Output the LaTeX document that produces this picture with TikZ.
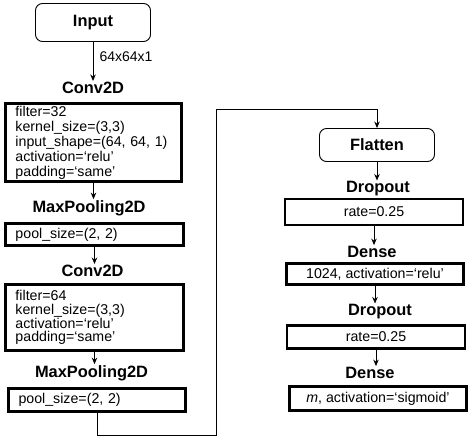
\documentclass[tikz,border=0pt]{standalone}
\usepackage{fontspec}
\setmainfont{Liberation Sans}
\usetikzlibrary{arrows.meta}
\begin{document}
\begin{tikzpicture}[x=1pt,y=-1pt,
  layer/.style={draw=black,line width=2.8pt,inner xsep=10pt,inner ysep=1pt,font=\fontsize{14.2}{15}\selectfont},
  rounded/.style={draw=black,line width=0.9pt,rounded corners=7pt,font=\fontsize{16.4}{18}\selectfont\bfseries},
  title/.style={inner sep=1pt,font=\fontsize{16.4}{18}\selectfont\bfseries},
  flow/.style={line width=0.9pt,-{Stealth[length=6.5pt,width=5.5pt]}}]
\useasboundingbox (0,0) rectangle (474,440);
\node [rounded,minimum width=115,minimum height=38] (input) at (93,22.5) {Input};
\node [font=\fontsize{14}{15}\selectfont,inner sep=0pt] (shape) at (126,57) {64x64x1};
\node [title] (tconva) at (93,88) {Conv2D};
\node [layer,minimum width=176,minimum height=78,text width=156,align=left] (conva) at (93.5,142.5)
  {filter=32\\kernel\_size=(3,3)\\input\_shape=(64, 64, 1)\\activation=`relu'\\padding=`same'};
\node [title] (tpoola) at (89,208) {MaxPooling2D};
\node [layer,minimum width=178,minimum height=22,text width=158,align=left] (poola) at (94.5,234.5) {pool\_size=(2, 2)};
\node [title] (tconvb) at (92.5,271) {Conv2D};
\node [layer,minimum width=178,minimum height=66,text width=158,align=left,font=\fontsize{14.2}{13.8}\selectfont] (convb) at (94.5,317.5)
  {filter=64\\kernel\_size=(3,3)\\activation=`relu'\\padding=`same'};
\node [title] (tpoolb) at (91.5,373) {MaxPooling2D};
\node [layer,minimum width=177,minimum height=23,text width=157,align=left] (poolb) at (97,400) {pool\_size=(2, 2)};
\coordinate (turna) at (216,435);
\coordinate (turnb) at (216,109);
\node [rounded,minimum width=115,minimum height=33] (flatten) at (377,145) {Flatten};
\node [title] (tdropa) at (378,189) {Dropout};
\node [layer,minimum width=178,minimum height=26] (dropa) at (374,212) {rate=0.25};
\node [title] (tdensea) at (372,252) {Dense};
\node [layer,minimum width=177,minimum height=21] (densea) at (375,274) {1024, activation=`relu'};
\node [title] (tdropb) at (380,312) {Dropout};
\node [layer,minimum width=178,minimum height=23] (dropb) at (376,337) {rate=0.25};
\node [title] (tdenseb) at (370,373) {Dense};
\node [layer,minimum width=177,minimum height=24] (denseb) at (378,398.5) {\textit{m}, activation=`sigmoid'};
\draw [flow] (input.south) -- (input.south |- tconva.north);
\draw [flow] (conva.south) -- (conva.south |- tpoola.north);
\draw [flow] (poola.south) -- (poola.south |- tconvb.north);
\draw [flow] (convb.south) -- (convb.south |- tpoolb.north);
\draw [flow] (poolb.south) |- (turna) -- (turnb) -| (flatten.north);
\draw [flow] (flatten.south) -- (flatten.south |- tdropa.north);
\draw [flow] (dropa.south) -- (dropa.south |- tdensea.north);
\draw [flow] (densea.south) -- (densea.south |- tdropb.north);
\draw [flow] (dropb.south) -- (dropb.south |- tdenseb.north);
\end{tikzpicture}
\end{document}
